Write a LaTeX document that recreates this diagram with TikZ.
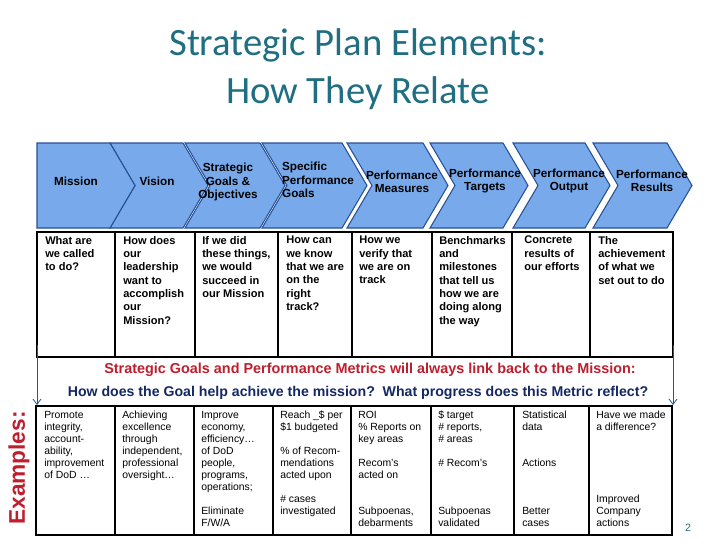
\documentclass[tikz,border=0pt]{standalone}
\usepackage{fontspec}
\setmainfont{Liberation Sans}
\newfontfamily\titlefont{Carlito}
\usetikzlibrary{arrows.meta}
\definecolor{teal1}{RGB}{31,110,130}
\definecolor{chevfill}{RGB}{120,170,235}
\definecolor{chevdraw}{RGB}{40,80,150}
\definecolor{redt}{RGB}{190,30,45}
\definecolor{navyt}{RGB}{20,40,100}
\tikzset{
  chev/.style={fill=chevfill,draw=chevdraw,line width=0.8pt},
  chevtxt/.style={font=\fontsize{8.8}{10}\selectfont\bfseries,align=center,inner sep=0pt},
  uptxt/.style={anchor=north west,align=left,inner sep=0pt,font=\fontsize{8.3}{10}\selectfont\bfseries},
  lotxt/.style={anchor=north west,align=left,inner sep=0pt,font=\fontsize{7.8}{9}\selectfont},
  tbl/.style={draw=black,line width=1pt},
}
\newcommand{\mychev}[2]{% x1 x2
  \draw[chev] (#1,143)--(#2-25,143)--(#2,185.5)--(#2-25,228)--(#1,228)--(#1+25,185.5)--cycle;}
\begin{document}
\begin{tikzpicture}[x=0.75pt,y=-0.75pt]
\useasboundingbox (0,0) rectangle (728,546);
\fill[white] (0,0) rectangle (728,546);
\node[font=\titlefont\fontsize{29}{36}\selectfont,text=teal1,align=center] (title) at (358,69) {Strategic Plan Elements:\\How They Relate};
% chevrons
\mychev{593}{692}
\mychev{513}{610}
\mychev{430}{528}
\mychev{347}{448}
\mychev{262}{367}
\mychev{185}{285}
\mychev{110}{208}
\draw[chev] (37,143)--(110,143)--(135,185.5)--(110,228)--(37,228)--cycle;
\node[chevtxt] (c1) at (76,181) {Mission};
\node[chevtxt] (c2) at (157,181) {Vision};
\node[chevtxt] (c3) at (228,182) {Strategic\\Goals \&\\Objectives};
\node[chevtxt,align=left] (c4) at (318,180) {Specific\\Performance\\Goals};
\node[chevtxt] (c5) at (402,182) {Performance\\Measures};
\node[chevtxt] (c6) at (485,181) {Performance\\Targets};
\node[chevtxt] (c7) at (569,181) {Performance\\Output};
\node[chevtxt] (c8) at (652,181) {Performance\\Results};
% upper table
\draw[tbl] (37,232) rectangle (673,357);
\foreach \x in {115,195,278,352,432,512,590} \draw[tbl] (\x,232)--(\x,357);
\node[uptxt] (u1) at (45,236) {What are\\we called\\to do?};
\node[uptxt] (u2) at (123,236) {How does\\our\\leadership\\want to\\accomplish\\our\\Mission?};
\node[uptxt] (u3) at (202,236) {If we did\\these things,\\we would\\succeed in\\our Mission};
\node[uptxt] (u4) at (286,236) {How can\\we know\\that we are\\on the\\right\\track?};
\node[uptxt] (u5) at (359,236) {How we\\verify that\\we are on\\track};
\node[uptxt] (u6) at (439,236) {Benchmarks\\and\\milestones\\that tell us\\how we are\\doing along\\the way};
\node[uptxt] (u7) at (524,236) {Concrete\\results of\\our efforts};
\node[uptxt] (u8) at (598,236) {The\\achievement\\of what we\\set out to do};
% side arrows
\coordinate (la) at (37,345); \coordinate (lb) at (37,405);
\coordinate (ra) at (673,345); \coordinate (rb) at (673,405);
\draw[teal1!80!blue,line width=0.6pt,-{Straight Barb[length=4pt,width=6pt]}] (la)--(lb);
\draw[teal1!80!blue,line width=0.6pt,-{Straight Barb[length=4pt,width=6pt]}] (ra)--(rb);
\node[text=redt,font=\fontsize{10.8}{12}\selectfont\bfseries] (red) at (370,370) {Strategic Goals and Performance Metrics will always link back to the Mission:};
\node[text=navyt,font=\fontsize{10.6}{12}\selectfont\bfseries] (blue) at (358,393) {How does the Goal help achieve the mission?\ \ What progress does this Metric reflect?};
% lower table
\draw[tbl] (36,406) rectangle (672,535);
\foreach \x in {115,194,273,351,431,514,589} \draw[tbl] (\x,406)--(\x,535);
\node[lotxt] (l1) at (44,411) {Promote\\integrity,\\account-\\ability,\\improvement\\of DoD …};
\node[lotxt] (l2) at (122,411) {Achieving\\excellence\\through\\independent,\\professional\\oversight…};
\node[lotxt] (l3) at (201,411) {Improve\\economy,\\efficiency…\\of DoD\\people,\\programs,\\operations;\\~\\Eliminate\\F/W/A};
\node[lotxt] (l4) at (280,411) {Reach \_\$ per\\\$1 budgeted\\~\\\% of Recom-\\mendations\\acted upon\\~\\\# cases\\investigated};
\node[lotxt] (l5) at (358,411) {ROI\\\% Reports on\\key areas\\~\\Recom’s\\acted on\\~\\~\\Subpoenas,\\debarments};
\node[lotxt] (l6) at (438,411) {\$ target\\\# reports,\\\# areas\\~\\\# Recom’s\\~\\~\\~\\Subpoenas\\validated};
\node[lotxt] (l7) at (522,411) {Statistical\\data\\~\\~\\Actions\\~\\~\\~\\Better\\cases};
\node[lotxt] (l8) at (596,411) {Have we made\\a difference?\\~\\~\\~\\~\\~\\Improved\\Company\\actions};
\node[rotate=90,text=redt,font=\fontsize{17}{19}\selectfont\bfseries] (ex) at (19,468) {Examples:};
\node[text=teal1,font=\fontsize{8}{9}\selectfont] (pg) at (688,528) {2};
\end{tikzpicture}
\end{document}
